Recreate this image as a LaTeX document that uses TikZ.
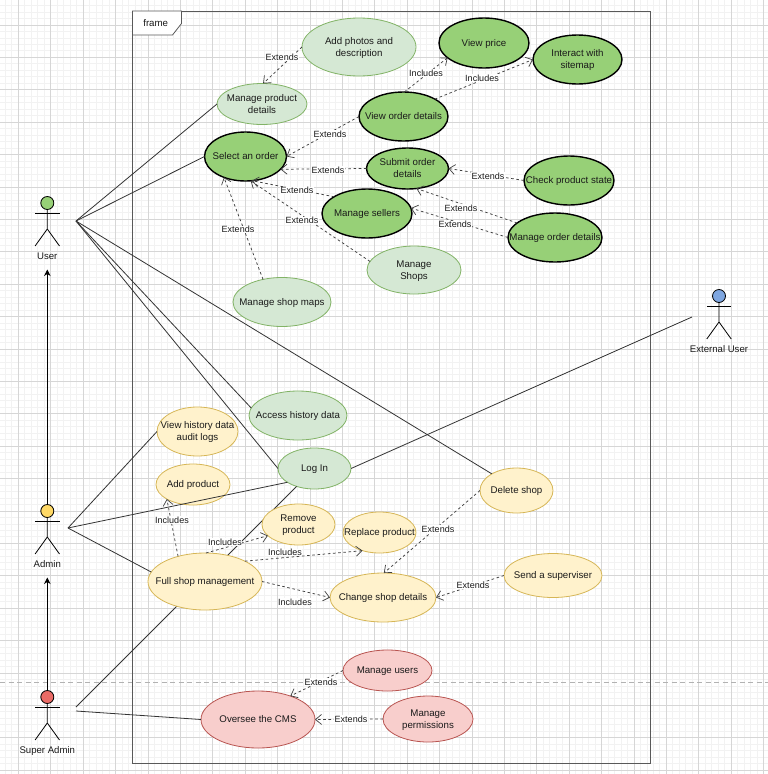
\documentclass[tikz,border=0pt]{standalone}
\usepackage{fontspec}
\setmainfont{Liberation Sans}
\usetikzlibrary{shapes.geometric,arrows.meta,calc}
\definecolor{gmaj}{HTML}{D6D6D6}
\definecolor{gmin}{HTML}{F2F2F2}
\definecolor{txt}{HTML}{1A1A1A}
\definecolor{fdg}{HTML}{97D077}
\definecolor{flg}{HTML}{D5E8D4}\definecolor{slg}{HTML}{82B366}
\definecolor{fyl}{HTML}{FFF2CC}\definecolor{syl}{HTML}{D6B656}
\definecolor{frd}{HTML}{F8CECC}\definecolor{srd}{HTML}{B85450}
\definecolor{hyl}{HTML}{FFD966}\definecolor{hrd}{HTML}{EA6B66}\definecolor{hbl}{HTML}{7EA6E0}
\newcommand\ut[1]{\raisebox{-3.4pt}[0pt][0pt]{\makebox[0pt][c]{\fontsize{9.7}{11.7}\selectfont\begin{tabular}{@{}c@{}}#1\end{tabular}}}}
\tikzset{
  uc/.style 2 args={shape=ellipse,minimum width=#1,minimum height=#2,inner sep=0pt,outer sep=0pt,text=txt},
  dg/.style={draw=black,line width=1.4pt,fill=fdg},
  lg/.style={draw=slg,line width=0.8pt,fill=flg},
  yl/.style={draw=syl,line width=0.8pt,fill=fyl},
  rd/.style={draw=srd,line width=0.8pt,fill=frd},
  assoc/.style={draw=black!80,line width=0.8pt},
  dep/.style={draw=black!75,line width=0.75pt,dash pattern=on 2.6pt off 2.6pt,-{Straight Barb[length=6pt,width=10pt,line width=0.7pt]}},
  lab/.style={fill=white,inner sep=0.6pt,text=txt,font=\fontsize{9}{10.5}\selectfont},
  actorline/.style={draw=black,line width=0.8pt},
  actorlab/.style={text=txt,inner sep=0pt,font=\fontsize{9.6}{11.7}\selectfont,text height=7.5pt,text depth=2.2pt},
  inherit/.style={draw=black,line width=0.9pt,-{Stealth[length=6.5pt,width=6.5pt]}},
}
\newcommand\umlactor[5]{%
  \node[circle,draw=black,line width=0.8pt,fill=#4,minimum size=13pt,inner sep=0pt,outer sep=0pt] (#1head) at (#2,#3) {};
  \draw[actorline] (#1head.south) -- ++(0,19.5) coordinate (#1crotch) -- ++(-12.2,17) coordinate (#1footl);
  \draw[actorline] (#1crotch) -- ++(12.2,17) coordinate (#1footr);
  \draw[actorline] ($(#1head.center)+(-12.2,9.9)$) coordinate (#1arml) -- ++(24.4,0) coordinate (#1armr);
  \node[actorlab] (#1label) at ($(#1head.center)+(0,53.5)$) {#5};}
\begin{document}
\begin{tikzpicture}[x=1pt,y=-1pt]
\useasboundingbox (0,0) rectangle (768,774);
\fill[white] (0,0) rectangle (768,774);
% grid
\foreach \k in {-2,...,117} {\draw[gmin,line width=0.7pt] ({18.3+6.48*\k},0) -- ({18.3+6.48*\k},774);}
\foreach \k in {-3,...,116} {\draw[gmin,line width=0.7pt] (0,{24.9+6.48*\k}) -- (768,{24.9+6.48*\k});}
\foreach \k in {0,...,23} {\draw[gmaj,line width=0.7pt] ({18.3+32.4*\k},0) -- ({18.3+32.4*\k},774);}
\foreach \k in {0,...,23} {\draw[gmaj,line width=0.7pt] (0,{24.9+32.4*\k}) -- (768,{24.9+32.4*\k});}
% page break line
\draw[black!30,line width=0.8pt,dash pattern=on 5pt off 3.5pt] (0,682) -- (768,682);
% frame
\draw[black!65,line width=1pt] (132.5,11) rectangle (650,763.5);
\draw[black!65,line width=0.8pt,fill=white] (132.5,11) -- (181.5,11) -- (181.5,23.5) -- (172.5,35) -- (132.5,35) -- cycle;
\node[text=txt,inner sep=0pt,font=\fontsize{9.7}{11.7}\selectfont] (framelabel) at (155.7,22.6) {frame};
% free ends of the actors
\coordinate (userpt) at (76,221);
\coordinate (adminpt) at (68,528);
\coordinate (superpt) at (76,707);
\coordinate (superpt2) at (76,711);
\coordinate (extpt) at (692,317);
% Log In first, the line from Super Admin runs behind other ellipses
\node[uc={73pt}{41pt},lg] (login) at (314.5,468.5) {\ut{Log In}};
\draw[assoc] (superpt) -- (login);
% use cases
\node[uc={114pt}{58pt},lg] (photos) at (359,47) {\ut{Add photos and\\description}};
\node[uc={90pt}{41pt},lg] (mproduct) at (262,104) {\ut{Manage product\\details}};
\node[uc={82pt}{49pt},dg] (select) at (245.5,156.5) {\ut{Select an order}};
\node[uc={89pt}{49pt},dg] (vieworder) at (403.5,116.5) {\ut{View order details}};
\node[uc={82pt}{41pt},dg] (submit) at (407.5,168.5) {\ut{Submit order\\details}};
\node[uc={94pt}{48pt},lg] (shops) at (414,270) {\ut{Manage\\Shops}};
\node[uc={90pt}{49pt},dg] (sellers) at (367,213.5) {\ut{Manage sellers}};
\node[uc={98pt}{49pt},lg] (maps) at (282,302) {\ut{Manage shop maps}};
\node[uc={90pt}{50pt},dg] (price) at (484,43) {\ut{View price}};
\node[uc={89pt}{49pt},dg] (sitemap) at (577.5,59.5) {\ut{Interact with\\sitemap}};
\node[uc={90pt}{49pt},dg] (check) at (569,180.5) {\ut{Check product state}};
\node[uc={94pt}{49pt},dg] (morder) at (555,237.5) {\ut{Manage order details}};
\node[uc={98pt}{49pt},lg] (access) at (298,415.5) {\ut{Access history data}};
\node[uc={81pt}{49pt},yl] (history) at (197.5,431.5) {\ut{View history data\\audit logs}};
\node[uc={74pt}{41pt},yl] (addprod) at (193,484.5) {\ut{Add product}};
\node[uc={73pt}{41pt},yl] (remove) at (298.5,524.5) {\ut{Remove\\product}};
\node[uc={114pt}{57pt},yl] (full) at (205,581.5) {\ut{Full shop management}};
\node[uc={73pt}{41pt},yl] (replace) at (379.5,532.5) {\ut{Replace product}};
\node[uc={73pt}{45pt},yl] (delete) at (516.5,490.5) {\ut{Delete shop}};
\node[uc={106pt}{49pt},yl] (change) at (383,597.5) {\ut{Change shop details}};
\node[uc={98pt}{44pt},yl] (send) at (553,575.5) {\ut{Send a superviser}};
\node[uc={89pt}{41pt},rd] (musers) at (387.5,670.5) {\ut{Manage users}};
\node[uc={90pt}{46pt},rd] (perms) at (428,719) {\ut{Manage\\permissions}};
\node[uc={114pt}{57pt},rd] (oversee) at (258,719.5) {\ut{Oversee the CMS}};
% associations
\draw[assoc] (userpt) -- (mproduct.180);
\draw[assoc] (userpt) -- (select.180);
\draw[assoc] (userpt) -- (access.171);
\draw[assoc] (userpt) -- (login.180);
\draw[assoc] (userpt) -- (delete.146);
\draw[assoc] (adminpt) -- (history.180);
\draw[assoc] (adminpt) -- (login.207);
\draw[assoc] (adminpt) -- (full.170);
\draw[assoc] (superpt2) -- (oversee.180);
\draw[assoc] (extpt) -- (login.0);
% dependencies
\draw[dep] (photos.180) -- (mproduct.87) node[lab,at={(282,57.5)}] (l1) {Extends};
\draw[dep] (vieworder.180) -- (select.0) node[lab,at={(330,134)}] (l2) {Extends};
\draw[dep] (submit.180) -- (select.-20) node[lab,at={(328,170)}] (l3) {Extends};
\draw[dep] (sellers.153) -- (select.-75) node[lab,at={(297,190.5)}] (l4) {Extends};
\draw[dep] (shops.169) -- (select.-78) node[lab,at={(302,220.5)}] (l5) {Extends};
\draw[dep] (maps.130) -- (select.-136) node[lab,at={(238,229.5)}] (l6) {Extends};
\draw[dep] (vieworder.88) -- (price.202) node[lab,at={(426,73)}] (l7) {Includes};
\draw[dep] (vieworder.29) -- (sitemap.180) node[lab,at={(482,78)}] (l8) {Includes};
\draw[dep] (check.180) -- (submit.0) node[lab,at={(488,176)}] (l9) {Extends};
\draw[dep] (morder.159) -- (submit.-66) node[lab,at={(461,208)}] (l10) {Extends};
\draw[dep] (morder.180) -- (sellers.7) node[lab,at={(455,224.5)}] (l11) {Extends};
\draw[dep] (full.137) -- (addprod.209) node[lab,at={(172,520)}] (l12) {Includes};
\draw[dep] (full.88) -- (remove.200) node[lab,at={(225,542)}] (l13) {Includes};
\draw[dep] (full.27) -- (replace.227) node[lab,at={(285,552.5)}] (l14) {Includes};
\draw[dep] (full.0) -- (change.180) node[lab,at={(295,602)}] (l15) {Includes};
\draw[dep] (delete.180) -- (change.88) node[lab,at={(438,529)}] (l16) {Extends};
\draw[dep] (send.180) -- (change.0) node[lab,at={(473,585.5)}] (l17) {Extends};
\draw[dep] (musers.180) -- (oversee.36) node[lab,at={(321,682)}] (l18) {Extends};
\draw[dep] (perms.180) -- (oversee.0) node[lab,at={(351,719)}] (l19) {Extends};
% actors
\umlactor{user}{47.3}{203}{fdg}{User}
\umlactor{admin}{47.3}{511}{hyl}{Admin}
\umlactor{super}{47.3}{697}{hrd}{Super Admin}
\umlactor{ext}{719}{296}{hbl}{External User}
\draw[inherit,shorten >=8pt] (adminhead.north) -- (userlabel.south);
\draw[inherit,shorten >=8pt] (superhead.north) -- (adminlabel.south);
\end{tikzpicture}
\end{document}
